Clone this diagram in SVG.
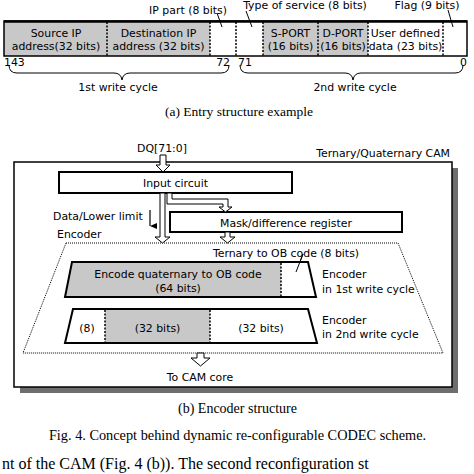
<svg xmlns="http://www.w3.org/2000/svg" width="474" height="474" viewBox="0 0 474 474">
<style>
.t{font-family:"DejaVu Sans","Liberation Sans",sans-serif;font-size:10.9px;fill:#000}
.c{text-anchor:middle}
.e{text-anchor:end}
.s{font-family:"Liberation Serif","Times New Roman",serif;fill:#000}
.dot{stroke:#000;stroke-width:1.5;stroke-dasharray:2,1.5;fill:none}
.ln{stroke:#000;stroke-width:1;fill:none}
.box{fill:#fff;stroke:#000;stroke-width:2}
.ha{fill:#fff;stroke:#000;stroke-width:1}
.g{fill:#c8c8c8}
.trap{fill:none;stroke:#000;stroke-width:2;stroke-linejoin:miter}
.fine{fill:none;stroke:#000;stroke-width:1;stroke-dasharray:1,1}
</style>
<defs>
<marker id="ah" markerWidth="6" markerHeight="8" refX="3" refY="7" orient="auto" markerUnits="userSpaceOnUse">
<path d="M0,0 L3,7 L6,0 Z" fill="#000"/>
</marker>
</defs>
<rect width="474" height="474" fill="#fff"/>

<!-- (a) Entry structure -->
<g id="entry">
<rect class="g" x="4" y="21" width="206" height="35"/>
<rect class="g" x="263" y="21" width="105" height="35"/>
<rect x="4" y="21" width="463" height="35" fill="none" stroke="#000" stroke-width="1.5"/>
<line x1="4" y1="21.5" x2="467" y2="21.5" stroke="#000" stroke-width="2.5"/>
<line class="dot" x1="107" y1="22" x2="107" y2="56"/>
<line class="dot" x1="210" y1="22" x2="210" y2="56"/>
<line class="dot" x1="236" y1="22" x2="236" y2="56"/>
<line class="dot" x1="263" y1="22" x2="263" y2="56"/>
<line class="dot" x1="318" y1="22" x2="318" y2="56"/>
<line class="dot" x1="368" y1="22" x2="368" y2="56"/>
<line class="dot" x1="443" y1="22" x2="443" y2="56"/>
<text class="t c" x="56" y="37">Source IP</text>
<text class="t c" x="56" y="50">address(32 bits)</text>
<text class="t c" x="158.5" y="37">Destination IP</text>
<text class="t c" x="158.5" y="50">address (32 bits)</text>
<text class="t c" x="290.5" y="37">S-PORT</text>
<text class="t c" x="290.5" y="50">(16 bits)</text>
<text class="t c" x="343" y="37">D-PORT</text>
<text class="t c" x="343" y="50">(16 bits)</text>
<text class="t c" x="405.5" y="37">User defined</text>
<text class="t c" x="405.5" y="50">data (23 bits)</text>
</g>
<g id="entry-labels">
<text class="t c" x="188" y="14">IP part (8 bits)</text>
<line class="ln" x1="217" y1="13" x2="222" y2="27"/>
<text class="t c" x="305" y="9">Type of service (8 bits)</text>
<line class="ln" x1="246" y1="11" x2="252" y2="27"/>
<text class="t c" x="427" y="9">Flag (9 bits)</text>
<line class="ln" x1="448" y1="10" x2="453" y2="27"/>
<text class="t" x="4" y="66">143</text>
<text class="t e" x="230" y="66">72</text>
<text class="t" x="238" y="66">71</text>
<text class="t e" x="467" y="66">0</text>
<path class="ln" d="M9,65 Q9,73 17,73 L114,73 Q121,73 122,80 Q123,73 130,73 L221,73 Q229,73 229,65"/>
<path class="ln" d="M240,65 Q240,73 248,73 L345,73 Q352,73 353,80 Q354,73 361,73 L455,73 Q463,73 463,65"/>
<text class="t c" x="118" y="91">1st write cycle</text>
<text class="t c" x="355" y="91">2nd write cycle</text>
<text class="s c" x="239" y="116" font-size="13.5">(a) Entry structure example</text>
</g>

<!-- (b) Encoder structure -->
<g id="cam">
<rect x="20" y="168" width="438" height="225" fill="#6e6e6e"/>
<rect x="14" y="162" width="438" height="225" fill="#fff" stroke="#000" stroke-width="1.5"/>
<text class="t e" x="450" y="157">Ternary/Quaternary CAM</text>
</g>
<text class="t c" x="162" y="152">DQ[71:0]</text>

<g id="input-circuit">
<rect class="box" x="59" y="172" width="233" height="21"/>
<text class="t c" x="175.5" y="187">Input circuit</text>
</g>
<g id="mask-register">
<rect class="box" x="170" y="212" width="232" height="20"/>
<text class="t c" x="286" y="227">Mask/difference register</text>
</g>

<g id="encoder">
<polygon class="fine" points="66,243 398,243 443,353 23,353"/>
<text class="t" x="57" y="238">Encoder</text>
<text class="t c" x="286" y="257">Ternary to OB code (8 bits)</text>
<line class="ln" x1="303" y1="254" x2="296" y2="272"/>
</g>

<g id="encoder-1st">
<polygon class="g" points="72,262 281,262 281,297 65,297"/>
<polygon fill="#fff" points="281,262 308,262 316,297 281,297"/>
<line class="dot" x1="281" y1="263" x2="281" y2="296"/>
<polygon class="trap" points="72,262 308,262 316,297 65,297"/>
<text class="t c" x="178" y="278">Encode quaternary to OB code</text>
<text class="t c" x="178" y="292">(64 bits)</text>
<text class="t" x="322" y="278">Encoder</text>
<text class="t" x="322" y="293">in 1st write cycle</text>
</g>
<line class="ln" x1="303" y1="254" x2="296" y2="272"/>

<g id="encoder-2nd">
<polygon class="g" points="105,309 210,309 210,343 105,343"/>
<line class="dot" x1="105" y1="310" x2="105" y2="342"/>
<line class="dot" x1="210" y1="310" x2="210" y2="342"/>
<polygon class="trap" points="73,309 308,309 317,343 65,343"/>
<text class="t c" x="87" y="332">(8)</text>
<text class="t c" x="157.5" y="332">(32 bits)</text>
<text class="t c" x="261" y="332">(32 bits)</text>
<text class="t" x="322" y="324">Encoder</text>
<text class="t" x="322" y="338">in 2nd write cycle</text>
</g>

<g id="connectors">
<polygon class="ha" points="160,155 160,165 156,165 163,172 170,165 166,165 166,155"/>
<polygon class="ha" points="160,193 160,237 155,237 162.5,243 170,237 165,237 165,193"/>
<polygon class="ha" points="167,193 167,204 223,204 223,207 219,207 225.5,212 232,207 228,207 228,199 172,199 172,193"/>
<polygon class="ha" points="225,232 225,237 220,237 227.5,243 235,237 230,237 230,232"/>
<polygon class="ha" points="197,353 197,358 191,358 200.5,366 210,358 204,358 204,353"/>
<line x1="150" y1="210" x2="150" y2="226" stroke="#000" stroke-width="1.2" marker-end="url(#ah)"/>
</g>
<text class="t" x="53" y="220">Data/Lower limit</text>
<text class="t c" x="200" y="381">To CAM core</text>

<text class="s c" x="237.5" y="413" font-size="14">(b) Encoder structure</text>
<text class="s c" x="237.5" y="440" font-size="14.3">Fig. 4. Concept behind dynamic re-configurable CODEC scheme.</text>
<text class="s" x="2" y="469" font-size="16">nt of the CAM (Fig. 4 (b)). The second reconfiguration st</text>
</svg>
